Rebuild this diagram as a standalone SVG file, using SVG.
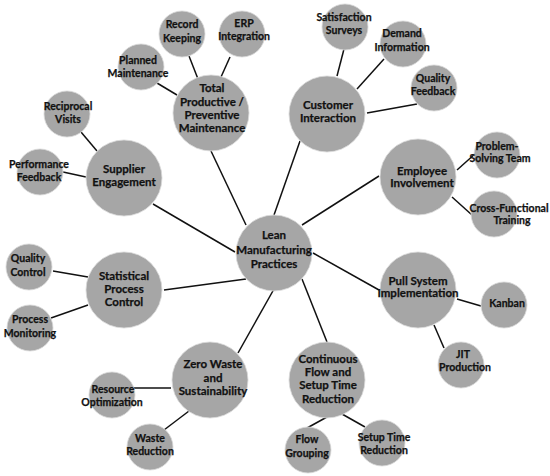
<svg xmlns="http://www.w3.org/2000/svg" width="550" height="476" viewBox="0 0 550 476">
<style>
.c{fill:#a6a6a6;stroke:#d9d9d9;stroke-width:0.8}
.l{stroke:#111;stroke-width:1.5;fill:none}
text{font-family:Lato,"Liberation Sans",sans-serif;font-weight:bold;fill:#111;stroke:#111;stroke-width:0.25;text-anchor:middle}
.h{font-size:11.5px}
.s{font-size:10.5px}
</style>
<rect width="550" height="476" fill="#fff"/>
<g id="connectors" class="l">
<line x1="246" y1="225" x2="211" y2="151"/>
<line x1="274" y1="215" x2="300" y2="141"/>
<line x1="302" y1="225" x2="379" y2="176"/>
<line x1="235" y1="252" x2="153" y2="204"/>
<line x1="313" y1="253" x2="379" y2="290"/>
<line x1="246" y1="279" x2="164" y2="290"/>
<line x1="274" y1="289" x2="238" y2="353"/>
<line x1="302" y1="279" x2="327" y2="342"/>
<line x1="189" y1="56" x2="198" y2="79"/>
<line x1="230" y1="57" x2="221" y2="77"/>
<line x1="157" y1="83" x2="177" y2="95"/>
<line x1="344" y1="49" x2="337" y2="76"/>
<line x1="384" y1="59" x2="357" y2="89"/>
<line x1="417" y1="104" x2="367" y2="113"/>
<line x1="81" y1="132" x2="97" y2="151"/>
<line x1="63" y1="172" x2="86" y2="177"/>
<line x1="457" y1="170" x2="476" y2="153"/>
<line x1="452" y1="197" x2="472" y2="215"/>
<line x1="53" y1="271" x2="88" y2="277"/>
<line x1="51" y1="318" x2="88" y2="305"/>
<line x1="457" y1="299" x2="481" y2="306"/>
<line x1="434" y1="325" x2="444" y2="348"/>
<line x1="134" y1="388" x2="171" y2="388"/>
<line x1="164" y1="430" x2="189" y2="411"/>
<line x1="307" y1="428" x2="327" y2="417"/>
<line x1="342" y1="414" x2="365" y2="427"/>
</g>
<g id="lean"><circle class="c" cx="274" cy="253" r="38"/><text class="h"><tspan x="274" y="239">Lean</tspan><tspan x="274" y="254">Manufacturing</tspan><tspan x="274" y="268">Practices</tspan></text></g>
<g id="tpm"><circle class="c" cx="211" cy="113" r="38"/><text class="h"><tspan x="212" y="92">Total</tspan><tspan x="212" y="106">Productive /</tspan><tspan x="212" y="119">Preventive</tspan><tspan x="212" y="132">Maintenance</tspan></text></g>
<g id="record"><circle class="c" cx="182" cy="34" r="23"/><text class="s"><tspan x="182" y="28">Record</tspan><tspan x="182" y="42">Keeping</tspan></text></g>
<g id="erp"><circle class="c" cx="242" cy="34" r="23"/><text class="s"><tspan x="244" y="27">ERP</tspan><tspan x="244" y="40">Integration</tspan></text></g>
<g id="planned"><circle class="c" cx="141" cy="67" r="23"/><text class="s"><tspan x="138" y="64">Planned</tspan><tspan x="138" y="77">Maintenance</tspan></text></g>
<g id="customer"><circle class="c" cx="327" cy="114" r="38"/><text class="h"><tspan x="328" y="109">Customer</tspan><tspan x="328" y="122">Interaction</tspan></text></g>
<g id="satisfaction"><circle class="c" cx="345" cy="27" r="23"/><text class="s"><tspan x="344" y="21">Satisfaction</tspan><tspan x="344" y="34">Surveys</tspan></text></g>
<g id="demand"><circle class="c" cx="403" cy="44" r="23"/><text class="s"><tspan x="402" y="37">Demand</tspan><tspan x="402" y="51">Information</tspan></text></g>
<g id="qfeedback"><circle class="c" cx="434" cy="88" r="23"/><text class="s"><tspan x="433" y="82">Quality</tspan><tspan x="433" y="95">Feedback</tspan></text></g>
<g id="supplier"><circle class="c" cx="124" cy="178" r="38"/><text class="h"><tspan x="124" y="173">Supplier</tspan><tspan x="124" y="186">Engagement</tspan></text></g>
<g id="reciprocal"><circle class="c" cx="67" cy="114" r="23"/><text class="s"><tspan x="68" y="110">Reciprocal</tspan><tspan x="68" y="123">Visits</tspan></text></g>
<g id="performance"><circle class="c" cx="40" cy="172" r="23"/><text class="s"><tspan x="39" y="168">Performance</tspan><tspan x="39" y="181">Feedback</tspan></text></g>
<g id="employee"><circle class="c" cx="418" cy="177" r="38"/><text class="h"><tspan x="422" y="175">Employee</tspan><tspan x="422" y="187">Involvement</tspan></text></g>
<g id="problem"><circle class="c" cx="497" cy="155" r="23"/><text class="s"><tspan x="497" y="150">Problem-</tspan><tspan x="500" y="162">Solving Team</tspan></text></g>
<g id="cross"><circle class="c" cx="494" cy="214" r="23"/><text class="s"><tspan x="509" y="212">Cross-Functional</tspan><tspan x="512" y="224">Training</tspan></text></g>
<g id="spc"><circle class="c" cx="124" cy="290" r="38"/><text class="h"><tspan x="124" y="280">Statistical</tspan><tspan x="124" y="293">Process</tspan><tspan x="124" y="306">Control</tspan></text></g>
<g id="qcontrol"><circle class="c" cx="29" cy="267" r="23"/><text class="s"><tspan x="28" y="262">Quality</tspan><tspan x="28" y="276">Control</tspan></text></g>
<g id="monitoring"><circle class="c" cx="30" cy="328" r="23"/><text class="s"><tspan x="30" y="323">Process</tspan><tspan x="30" y="337">Monitoring</tspan></text></g>
<g id="pull"><circle class="c" cx="418" cy="290" r="38"/><text class="h"><tspan x="418" y="285">Pull System</tspan><tspan x="418" y="297">Implementation</tspan></text></g>
<g id="kanban"><circle class="c" cx="504" cy="305" r="23"/><text class="s"><tspan x="507" y="307">Kanban</tspan></text></g>
<g id="jit"><circle class="c" cx="461" cy="365" r="23"/><text class="s"><tspan x="463" y="358">JIT</tspan><tspan x="465" y="371">Production</tspan></text></g>
<g id="zerowaste"><circle class="c" cx="210" cy="380" r="38"/><text class="h"><tspan x="213" y="368">Zero Waste</tspan><tspan x="213" y="382">and</tspan><tspan x="213" y="395">Sustainability</tspan></text></g>
<g id="resource"><circle class="c" cx="112" cy="395" r="23"/><text class="s"><tspan x="113" y="393">Resource</tspan><tspan x="112" y="406">Optimization</tspan></text></g>
<g id="wastered"><circle class="c" cx="150" cy="447" r="23"/><text class="s"><tspan x="150" y="442">Waste</tspan><tspan x="150" y="455">Reduction</tspan></text></g>
<g id="continuous"><circle class="c" cx="327" cy="380" r="38"/><text class="h"><tspan x="328" y="363">Continuous</tspan><tspan x="328" y="376">Flow and</tspan><tspan x="328" y="389">Setup Time</tspan><tspan x="328" y="403">Reduction</tspan></text></g>
<g id="flowgroup"><circle class="c" cx="308" cy="450" r="23"/><text class="s"><tspan x="307" y="443">Flow</tspan><tspan x="307" y="457">Grouping</tspan></text></g>
<g id="setup"><circle class="c" cx="382" cy="443" r="23"/><text class="s"><tspan x="384" y="441">Setup Time</tspan><tspan x="384" y="454">Reduction</tspan></text></g>
</svg>
